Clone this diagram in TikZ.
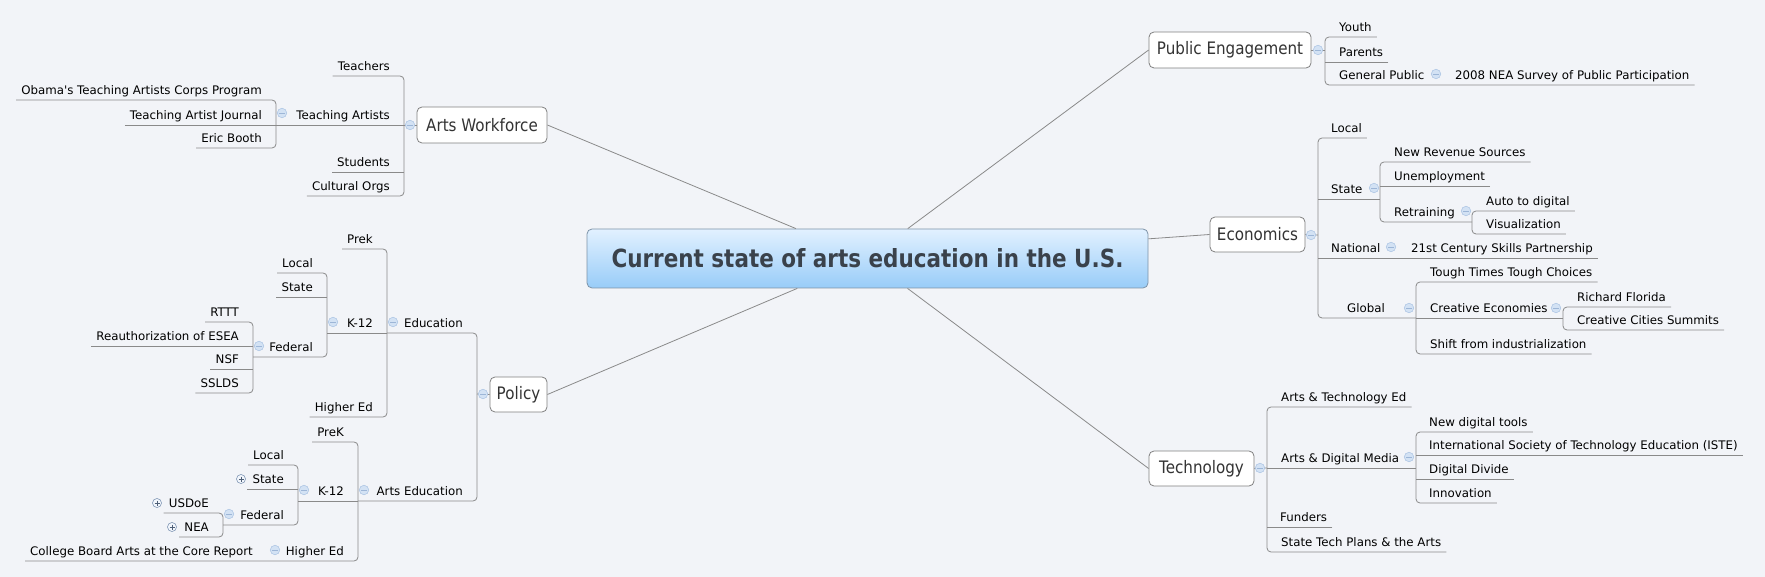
\documentclass[tikz,border=0pt]{standalone}
\usepackage{fontspec}
\newfontfamily\mapfont{DejaVu Sans}
\newfontfamily\widefont{DejaVu Sans}[FakeStretch=0.88]
\newfontfamily\titlefont{DejaVu Sans}[FakeStretch=0.86]
\definecolor{bgcol}{HTML}{F2F4F8}
\definecolor{linecol}{HTML}{8A8A8A}
\definecolor{boxline}{HTML}{808080}
\definecolor{rootline}{HTML}{7D93A8}
\definecolor{roottop}{HTML}{E2F1FF}
\definecolor{rootbot}{HTML}{98CCF8}
\definecolor{rootfont}{HTML}{3A424B}
\definecolor{foldfill}{HTML}{D3E2F4}
\definecolor{foldline}{HTML}{A9C2E2}
\definecolor{plusline}{HTML}{6F88AA}
\begin{document}
\begin{tikzpicture}[x=1pt,y=-1pt,
    link/.style={draw=linecol,line width=0.8pt,rounded corners=4pt},
    topic/.style={inner xsep=5pt,inner ysep=3pt,text height=9pt,text depth=2.7pt,
      font=\mapfont\fontsize{11.8}{14}\selectfont,text=black},
    branch/.style={draw=boxline,fill=white,rounded corners=5pt,line width=0.8pt,inner sep=0pt,
      font=\widefont\fontsize{17.2}{20}\selectfont,text=black!80},
    root/.style={draw=rootline,rounded corners=5pt,line width=0.8pt,top color=roottop,bottom color=rootbot,
      minimum width=561pt,minimum height=59pt,font=\titlefont\bfseries\fontsize{25}{30}\selectfont,text=rootfont},
    fold/.style={circle,draw=foldline,fill=foldfill,minimum size=9.5pt,inner sep=0pt,line width=0.5pt,
      path picture={\draw[foldline!80!plusline,line width=0.8pt]
        ([xshift=2.2pt]path picture bounding box.west) -- ([xshift=-2.2pt]path picture bounding box.east);}},
    unfold/.style={circle,draw=plusline,fill=white!70!foldfill,minimum size=9pt,inner sep=0pt,line width=0.5pt,
      path picture={\draw[plusline!70!black,line width=0.7pt]
        ([xshift=2pt]path picture bounding box.west) -- ([xshift=-2pt]path picture bounding box.east)
        ([yshift=-2pt]path picture bounding box.north) -- ([yshift=2pt]path picture bounding box.south);}}]
  \fill[bgcol] (0,0) rectangle (1765,577);
  \useasboundingbox (0,0) rectangle (1765,577);

  % centre and main branches
  \node[root] (root) at (867.5,258.5) {Current state of arts education in the U.S.};
  \node[branch,minimum width=130pt,minimum height=36pt] (aw) at (482,125) {Arts Workforce};
  \node[branch,minimum width=57pt,minimum height=35pt] (pol) at (518.5,394.5) {Policy};
  \node[branch,minimum width=162pt,minimum height=36pt] (pe) at (1230,50) {Public Engagement};
  \node[branch,minimum width=95pt,minimum height=35pt] (eco) at (1257.5,234.5) {Economics};
  \node[branch,minimum width=105pt,minimum height=35pt] (tech) at (1201.5,468.5) {Technology};

  % arts workforce
  \coordinate (awj) at (404,125);
  \node[topic,anchor=south east] (teach) at (395,76) {Teachers};
  \node[topic,anchor=south east] (tart) at (395,125) {Teaching Artists};
  \node[topic,anchor=south east] (stud) at (395,172) {Students};
  \node[topic,anchor=south east] (corg) at (395,196) {Cultural Orgs};
  \coordinate (tartj) at (276,125);
  \node[topic,anchor=south east] (obama) at (267,100) {Obama's Teaching Artists Corps Program};
  \node[topic,anchor=south east] (tajour) at (267,125) {Teaching Artist Journal};
  \node[topic,anchor=south east] (booth) at (267,148) {Eric Booth};

  % policy
  \coordinate (polj) at (477,394);
  \node[topic,anchor=south east] (edu) at (468,333) {Education};
  \node[topic,anchor=south east] (arted) at (468,501) {Arts Education};
  \coordinate (eduj) at (387,333);
  \node[topic,anchor=south east] (prek) at (378,249) {Prek};
  \node[topic,anchor=south east] (ek12) at (378,333) {K-12};
  \node[topic,anchor=south east] (ehied) at (378,417) {Higher Ed};
  \coordinate (ek12j) at (327,333);
  \node[topic,anchor=south east] (elocal) at (318,273) {Local};
  \node[topic,anchor=south east] (estate) at (318,297) {State};
  \node[topic,anchor=south east] (efed) at (318,357) {Federal};
  \coordinate (efedj) at (253,357);
  \node[topic,anchor=south east] (rttt) at (244,322) {RTTT};
  \node[topic,anchor=south east] (esea) at (244,346) {Reauthorization of ESEA};
  \node[topic,anchor=south east] (nsf) at (244,369) {NSF};
  \node[topic,anchor=south east] (sslds) at (244,393) {SSLDS};
  \coordinate (artedj) at (358,501);
  \node[topic,anchor=south east] (aprek) at (349,442) {PreK};
  \node[topic,anchor=south east] (ak12) at (349,501) {K-12};
  \node[topic,anchor=south east] (ahied) at (349,561) {Higher Ed};
  \coordinate (ak12j) at (298,501);
  \node[topic,anchor=south east] (alocal) at (289,465) {Local};
  \node[topic,anchor=south east] (astate) at (289,489) {State};
  \node[topic,anchor=south east] (afed) at (289,525) {Federal};
  \coordinate (afedj) at (223,525);
  \node[topic,anchor=south east] (usdoe) at (214,513) {USDoE};
  \node[topic,anchor=south east] (nea) at (214,537) {NEA};
  \node[topic,anchor=south east] (cboard) at (258,561) {College Board Arts at the Core Report};

  % public engagement
  \coordinate (pej) at (1325,50);
  \node[topic,anchor=south west] (youth) at (1334,37) {Youth};
  \node[topic,anchor=south west] (parents) at (1334,62) {Parents};
  \node[topic,anchor=south west] (genpub) at (1334,85) {General Public};
  \node[topic,anchor=south west] (survey) at (1450,85) {2008 NEA Survey of Public Participation};

  % economics
  \coordinate (ecoj) at (1318,235);
  \node[topic,anchor=south west] (ecolocal) at (1326,138) {Local};
  \node[topic,anchor=south west] (ecostate) at (1326,199) {State};
  \coordinate (ecostatej) at (1380,199);
  \node[topic,anchor=south west] (revenue) at (1389,162) {New Revenue Sources};
  \node[topic,anchor=south west] (unemp) at (1389,186) {Unemployment};
  \node[topic,anchor=south west] (retrain) at (1389,222) {Retraining};
  \coordinate (retrainj) at (1472,222);
  \node[topic,anchor=south west] (auto) at (1481,211) {Auto to digital};
  \node[topic,anchor=south west] (visual) at (1481,234) {Visualization};
  \node[topic,anchor=south west] (econat) at (1326,258) {National};
  \node[topic,anchor=south west] (skills) at (1406,258) {21st Century Skills Partnership};
  \node[topic,anchor=south west] (ecoglob) at (1342,318) {Global};
  \coordinate (ecoglobj) at (1416,318);
  \node[topic,anchor=south west] (tough) at (1425,282) {Tough Times Tough Choices};
  \node[topic,anchor=south west] (creative) at (1425,318) {Creative Economies};
  \coordinate (creativej) at (1563,318);
  \node[topic,anchor=south west] (florida) at (1572,307) {Richard Florida};
  \node[topic,anchor=south west] (cities) at (1572,330) {Creative Cities Summits};
  \node[topic,anchor=south west] (shift) at (1425,354) {Shift from industrialization};

  % technology
  \coordinate (techj) at (1267,468);
  \node[topic,anchor=south west] (artstech) at (1276,407) {Arts \& Technology Ed};
  \node[topic,anchor=south west] (media) at (1276,468) {Arts \& Digital Media};
  \coordinate (mediaj) at (1416,468);
  \node[topic,anchor=south west] (tools) at (1424,432) {New digital tools};
  \node[topic,anchor=south west] (iste) at (1424,455) {International Society of Technology Education (ISTE)};
  \node[topic,anchor=south west] (divide) at (1424,479) {Digital Divide};
  \node[topic,anchor=south west] (innov) at (1424,503) {Innovation};
  \node[topic,anchor=south west] (funders) at (1275,527) {Funders};
  \node[topic,anchor=south west] (techplan) at (1276,552) {State Tech Plans \& the Arts};

  % connectors
  \draw[link] (root) -- (aw.east);
  \draw[link] (aw.west) -- (awj);
  \draw[link] (teach.south west) -| (awj) |- (corg.south west);
  \draw[link] (stud.south west) -- (stud.south west -| awj);
  \draw[link] (tartj) -- (awj);
  \draw[link] (obama.south west) -| (tartj) |- (booth.south west);
  \draw[link] (tajour.south west) -- (tartj);

  \draw[link] (root) -- (pol.east);
  \draw[link] (pol.west) -- (polj);
  \draw[link] (eduj) -| (polj) |- (artedj);
  \draw[link] (prek.south west) -| (eduj) |- (ehied.south west);
  \draw[link] (ek12j) -- (eduj);
  \draw[link] (elocal.south west) -| (ek12j) |- (efedj);
  \draw[link] (estate.south west) -- (estate.south west -| ek12j);
  \draw[link] (rttt.south west) -| (efedj) |- (sslds.south west);
  \draw[link] (esea.south west) -- (esea.south west -| efedj);
  \draw[link] (nsf.south west) -- (nsf.south west -| efedj);
  \draw[link] (aprek.south west) -| (artedj) |- (cboard.south west);
  \draw[link] (ak12j) -- (artedj);
  \draw[link] (alocal.south west) -| (ak12j) |- (afedj);
  \draw[link] (astate.south west) -- (astate.south west -| ak12j);
  \draw[link] (usdoe.south west) -| (afedj) |- (nea.south west);

  \draw[link] (root) -- (pe.west);
  \draw[link] (pe.east) -- (pej);
  \draw[link] (youth.south east) -| (pej) |- (survey.south east);
  \draw[link] (parents.south east) -- (parents.south east -| pej);

  \draw[link] (root) -- (eco.west);
  \draw[link] (eco.east) -- (ecoj);
  \draw[link] (ecolocal.south east) -| (ecoj) |- (ecoglobj);
  \draw[link] (ecostate.south west -| ecoj) -- (ecostatej);
  \draw[link] (revenue.south east) -| (ecostatej) |- (retrainj);
  \draw[link] (unemp.south east) -- (unemp.south east -| ecostatej);
  \draw[link] (auto.south east) -| (retrainj) |- (visual.south east);
  \draw[link] (econat.south west -| ecoj) -- (skills.south east);
  \draw[link] (tough.south east) -| (ecoglobj) |- (shift.south east);
  \draw[link] (ecoglobj) -- (creativej);
  \draw[link] (florida.south east) -| (creativej) |- (cities.south east);

  \draw[link] (root) -- (tech.west);
  \draw[link] (tech.east) -- (techj);
  \draw[link] (artstech.south east) -| (techj) |- (techplan.south east);
  \draw[link] (techj) -- (mediaj);
  \draw[link] (funders.south east) -- (funders.south east -| techj);
  \draw[link] (tools.south east) -| (mediaj) |- (innov.south east);
  \draw[link] (iste.south east) -- (iste.south east -| mediaj);
  \draw[link] (divide.south east) -- (divide.south east -| mediaj);

  % fold markers
  \node[fold] (awf) at (410,125) {};
  \node[fold] (polf) at (483,394) {};
  \node[fold] (pef) at (1318,50) {};
  \node[fold] (ecof) at (1311,235) {};
  \node[fold] (techf) at (1260,468) {};
  \node[fold] (tartf) at (282,113) {};
  \node[fold] (eduf) at (393,322) {};
  \node[fold] (ek12f) at (333,322) {};
  \node[fold] (efedf) at (259,346) {};
  \node[fold] (artedf) at (364,490) {};
  \node[fold] (ak12f) at (304,490) {};
  \node[fold] (afedf) at (229,514) {};
  \node[fold] (ahiedf) at (275,550) {};
  \node[unfold] (astatef) at (241,479) {};
  \node[unfold] (usdoef) at (157,503) {};
  \node[unfold] (neaf) at (172,527) {};
  \node[fold] (genpubf) at (1436,74) {};
  \node[fold] (ecostatef) at (1374,188) {};
  \node[fold] (retrainf) at (1466,211) {};
  \node[fold] (econatf) at (1391,247) {};
  \node[fold] (ecoglobf) at (1409,308) {};
  \node[fold] (creativef) at (1556,308) {};
  \node[fold] (mediaf) at (1409,457) {};
\end{tikzpicture}
\end{document}
